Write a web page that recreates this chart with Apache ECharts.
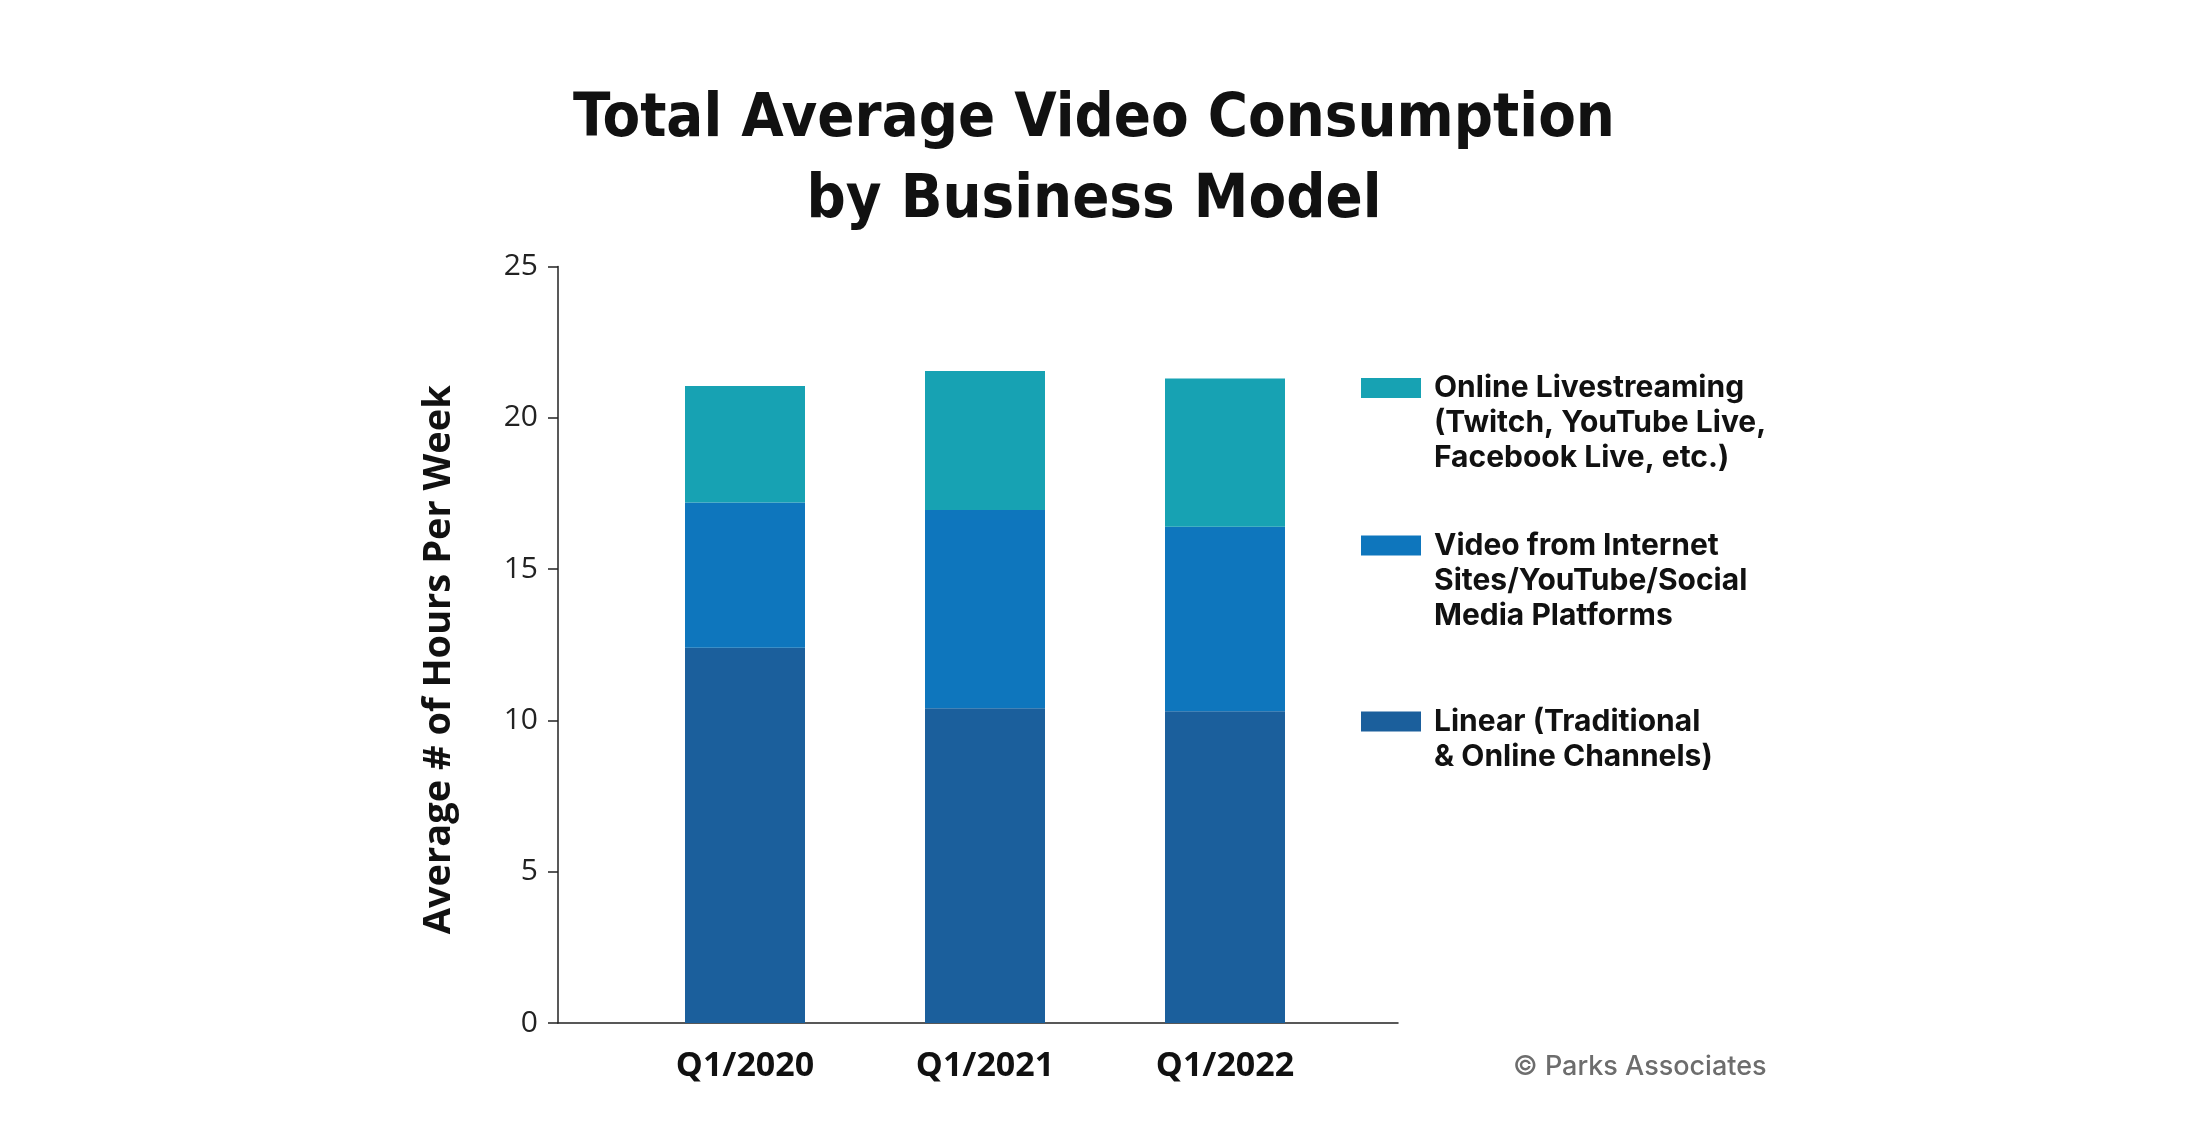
<!DOCTYPE html>
<html>
<head>
<meta charset="utf-8">
<script src="https://cdn.jsdelivr.net/npm/echarts@6/dist/echarts.min.js"></script>
<style>html,body{margin:0;padding:0;background:#fff}#c{width:2188px;height:1146px}</style>
</head>
<body>
<div id="c"></div>
<script>
const categories = ['Q1/2020', 'Q1/2021', 'Q1/2022'];
const seriesNames = [
  'Linear (Traditional\n& Online Channels)',
  'Video from Internet\nSites/YouTube/Social\nMedia Platforms',
  'Online Livestreaming\n(Twitch, YouTube Live,\nFacebook Live, etc.)'
];
const linearValues = [12.4, 10.4, 10.3];
const internetValues = [4.8, 6.55, 6.1];
const livestreamValues = [3.85, 4.6, 4.9];
const yTicks = [0, 5, 10, 15, 20, 25];
const colors = ['#1b5f9c', '#0e76bd', '#17a2b3'];

const valueLists = [linearValues, internetValues, livestreamValues];
const chart = echarts.init(document.getElementById('c'));

const legendTops = [664, 453, 295.5];
const legends = seriesNames.map((n, i) => {
  const lines = n.split('\n').length;
  return {
    orient: 'vertical',
    left: 1356,
    top: legendTops[i],
    itemWidth: 60,
    itemHeight: 20,
    icon: 'rect',
    data: [n],
    selectedMode: false,
    formatter: name => '\n'.repeat(lines - 1) + name,
    textStyle: {
      fontFamily: 'Inter',
      fontWeight: 700,
      fontSize: 30,
      lineHeight: 35,
      color: '#111',
      padding: [0, 0, 0, 8]
    }
  };
});

chart.setOption({
  animation: false,
  color: colors,
  title: [
    {
      text: 'Total Average Video Consumption\nby Business Model',
      left: 'center',
      top: 75,
      textStyle: {
        fontFamily: "'DejaVu Sans Condensed', 'Liberation Sans Narrow', sans-serif",
        fontWeight: 'bold',
        fontSize: 61,
        lineHeight: 81,
        color: '#111'
      }
    },
    {
      text: '© Parks Associates',
      left: 1508,
      top: 1048,
      textStyle: { fontFamily: 'Inter', fontWeight: 500, fontSize: 27, color: '#6d6d6d' }
    }
  ],
  legend: legends,
  grid: [
    { left: 625, width: 720, top: 266.5, bottom: 123, containLabel: false },
    { left: 558, right: 790, top: 266.5, bottom: 123, containLabel: false }
  ],
  xAxis: [
    {
      type: 'category',
      gridIndex: 0,
      data: categories,
      axisLine: { show: false },
      axisTick: { show: false },
      axisLabel: {
        margin: 26,
        fontFamily: 'Open Sans',
        fontWeight: 'bold',
        fontSize: 34,
        color: '#111'
      }
    },
    {
      type: 'value',
      gridIndex: 1,
      min: 0,
      max: 1,
      splitLine: { show: false },
      axisTick: { show: false },
      axisLabel: { show: false },
      axisLine: { show: true, lineStyle: { color: '#222', width: 1.5 } }
    }
  ],
  yAxis: [
    {
      type: 'value',
      gridIndex: 0,
      min: 0,
      max: 25,
      interval: 5,
      show: false
    },
    {
      type: 'value',
      gridIndex: 1,
      min: 0,
      max: 25,
      interval: 5,
      name: 'Average # of Hours Per Week',
      nameLocation: 'middle',
      nameGap: 100,
      nameRotate: 90,
      nameTextStyle: {
        fontFamily: 'Open Sans',
        fontWeight: 'bold',
        fontSize: 38,
        color: '#111',
        padding: [0, 30, 0, 0]
      },
      splitLine: { show: false },
      axisLine: { show: true, onZero: false, lineStyle: { color: '#222', width: 1.5 } },
      axisTick: { show: true, length: 10, lineStyle: { color: '#222', width: 1.5 } },
      axisLabel: {
        margin: 20,
        fontFamily: 'Open Sans',
        fontSize: 30,
        color: '#222',
        formatter: v => (yTicks.includes(v) ? String(v) : '')
      }
    }
  ],
  series: seriesNames.map((n, i) => ({
    name: n,
    type: 'bar',
    stack: 'total',
    xAxisIndex: 0,
    yAxisIndex: 0,
    barWidth: '50%',
    itemStyle: { color: colors[i] },
    data: valueLists[i]
  }))
});
</script>
</body>
</html>
